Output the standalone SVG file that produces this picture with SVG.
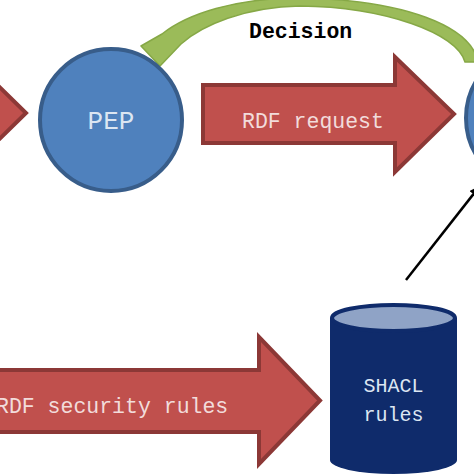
<svg xmlns="http://www.w3.org/2000/svg" width="474" height="474" viewBox="0 0 474 474">
<style>
.red{fill:#c0504d;stroke:#8c3836;stroke-width:4;stroke-linejoin:miter}
.blue{fill:#4f81bd;stroke:#385d8a;stroke-width:4}
.t{font-family:"Liberation Mono","Courier New",monospace}
.lt{fill:#f2dcdb}
.bt{fill:#dce6f2}
</style>
<defs>
<marker id="ah" markerWidth="10" markerHeight="10" refX="9" refY="5" orient="auto" markerUnits="userSpaceOnUse">
<path d="M0,0 L10,5 L0,10 Z" fill="#000"/>
</marker>
</defs>
<rect width="474" height="474" fill="#fff"/>
<g id="connectors">
<path id="in-arrow" class="red" d="M-60,85 H-33 V55 L26,113 L-33,171 V143 H-60 Z"/>
<g id="rdf-request">
<path class="red" d="M203,85 H395 V57 L454,114 L395,172 V143 H203 Z"/>
<text class="t lt" x="242" y="128" font-size="21.5">RDF request</text>
</g>
<g id="rdf-security-rules">
<path class="red" d="M-40,370 H259 V337 L320,400.5 L259,464 V432 H-40 Z"/>
<text class="t lt" x="-4" y="413" font-size="21.5">RDF security rules</text>
</g>
<g id="decision">
<path d="M478,62 C471,26 405,0 300,-2 C235,-2 187,14 162,34 L141,46 L160,66 L181,44 C202,25 245,7 300,6 C385,7 457,33 465,62 Z" fill="#9bbb59" stroke="#86a846" stroke-width="1.5" stroke-linejoin="round"/>
<text class="t" x="249" y="38" font-size="21.5" font-weight="bold" fill="#000">Decision</text>
</g>
<line x1="406" y1="280" x2="479" y2="187" stroke="#000" stroke-width="2.5" marker-end="url(#ah)"/>
</g>
<g id="pep">
<circle class="blue" cx="111" cy="120" r="71"/>
<text class="t bt" x="111" y="129" font-size="26" text-anchor="middle">PEP</text>
</g>
<g id="pdp">
<circle class="blue" cx="537" cy="118" r="71"/>
</g>
<g id="shacl">
<path d="M330,318 V460 A63.5,14 0 0 0 457,460 V318 Z" fill="#0f2b6b"/>
<ellipse cx="393.5" cy="318" rx="61.5" ry="13" fill="#8fa3c6" stroke="#0f2b6b" stroke-width="4"/>
<text class="t bt" x="393.5" y="392" font-size="20" text-anchor="middle">SHACL</text>
<text class="t bt" x="393.5" y="421" font-size="20" text-anchor="middle">rules</text>
</g>
</svg>
